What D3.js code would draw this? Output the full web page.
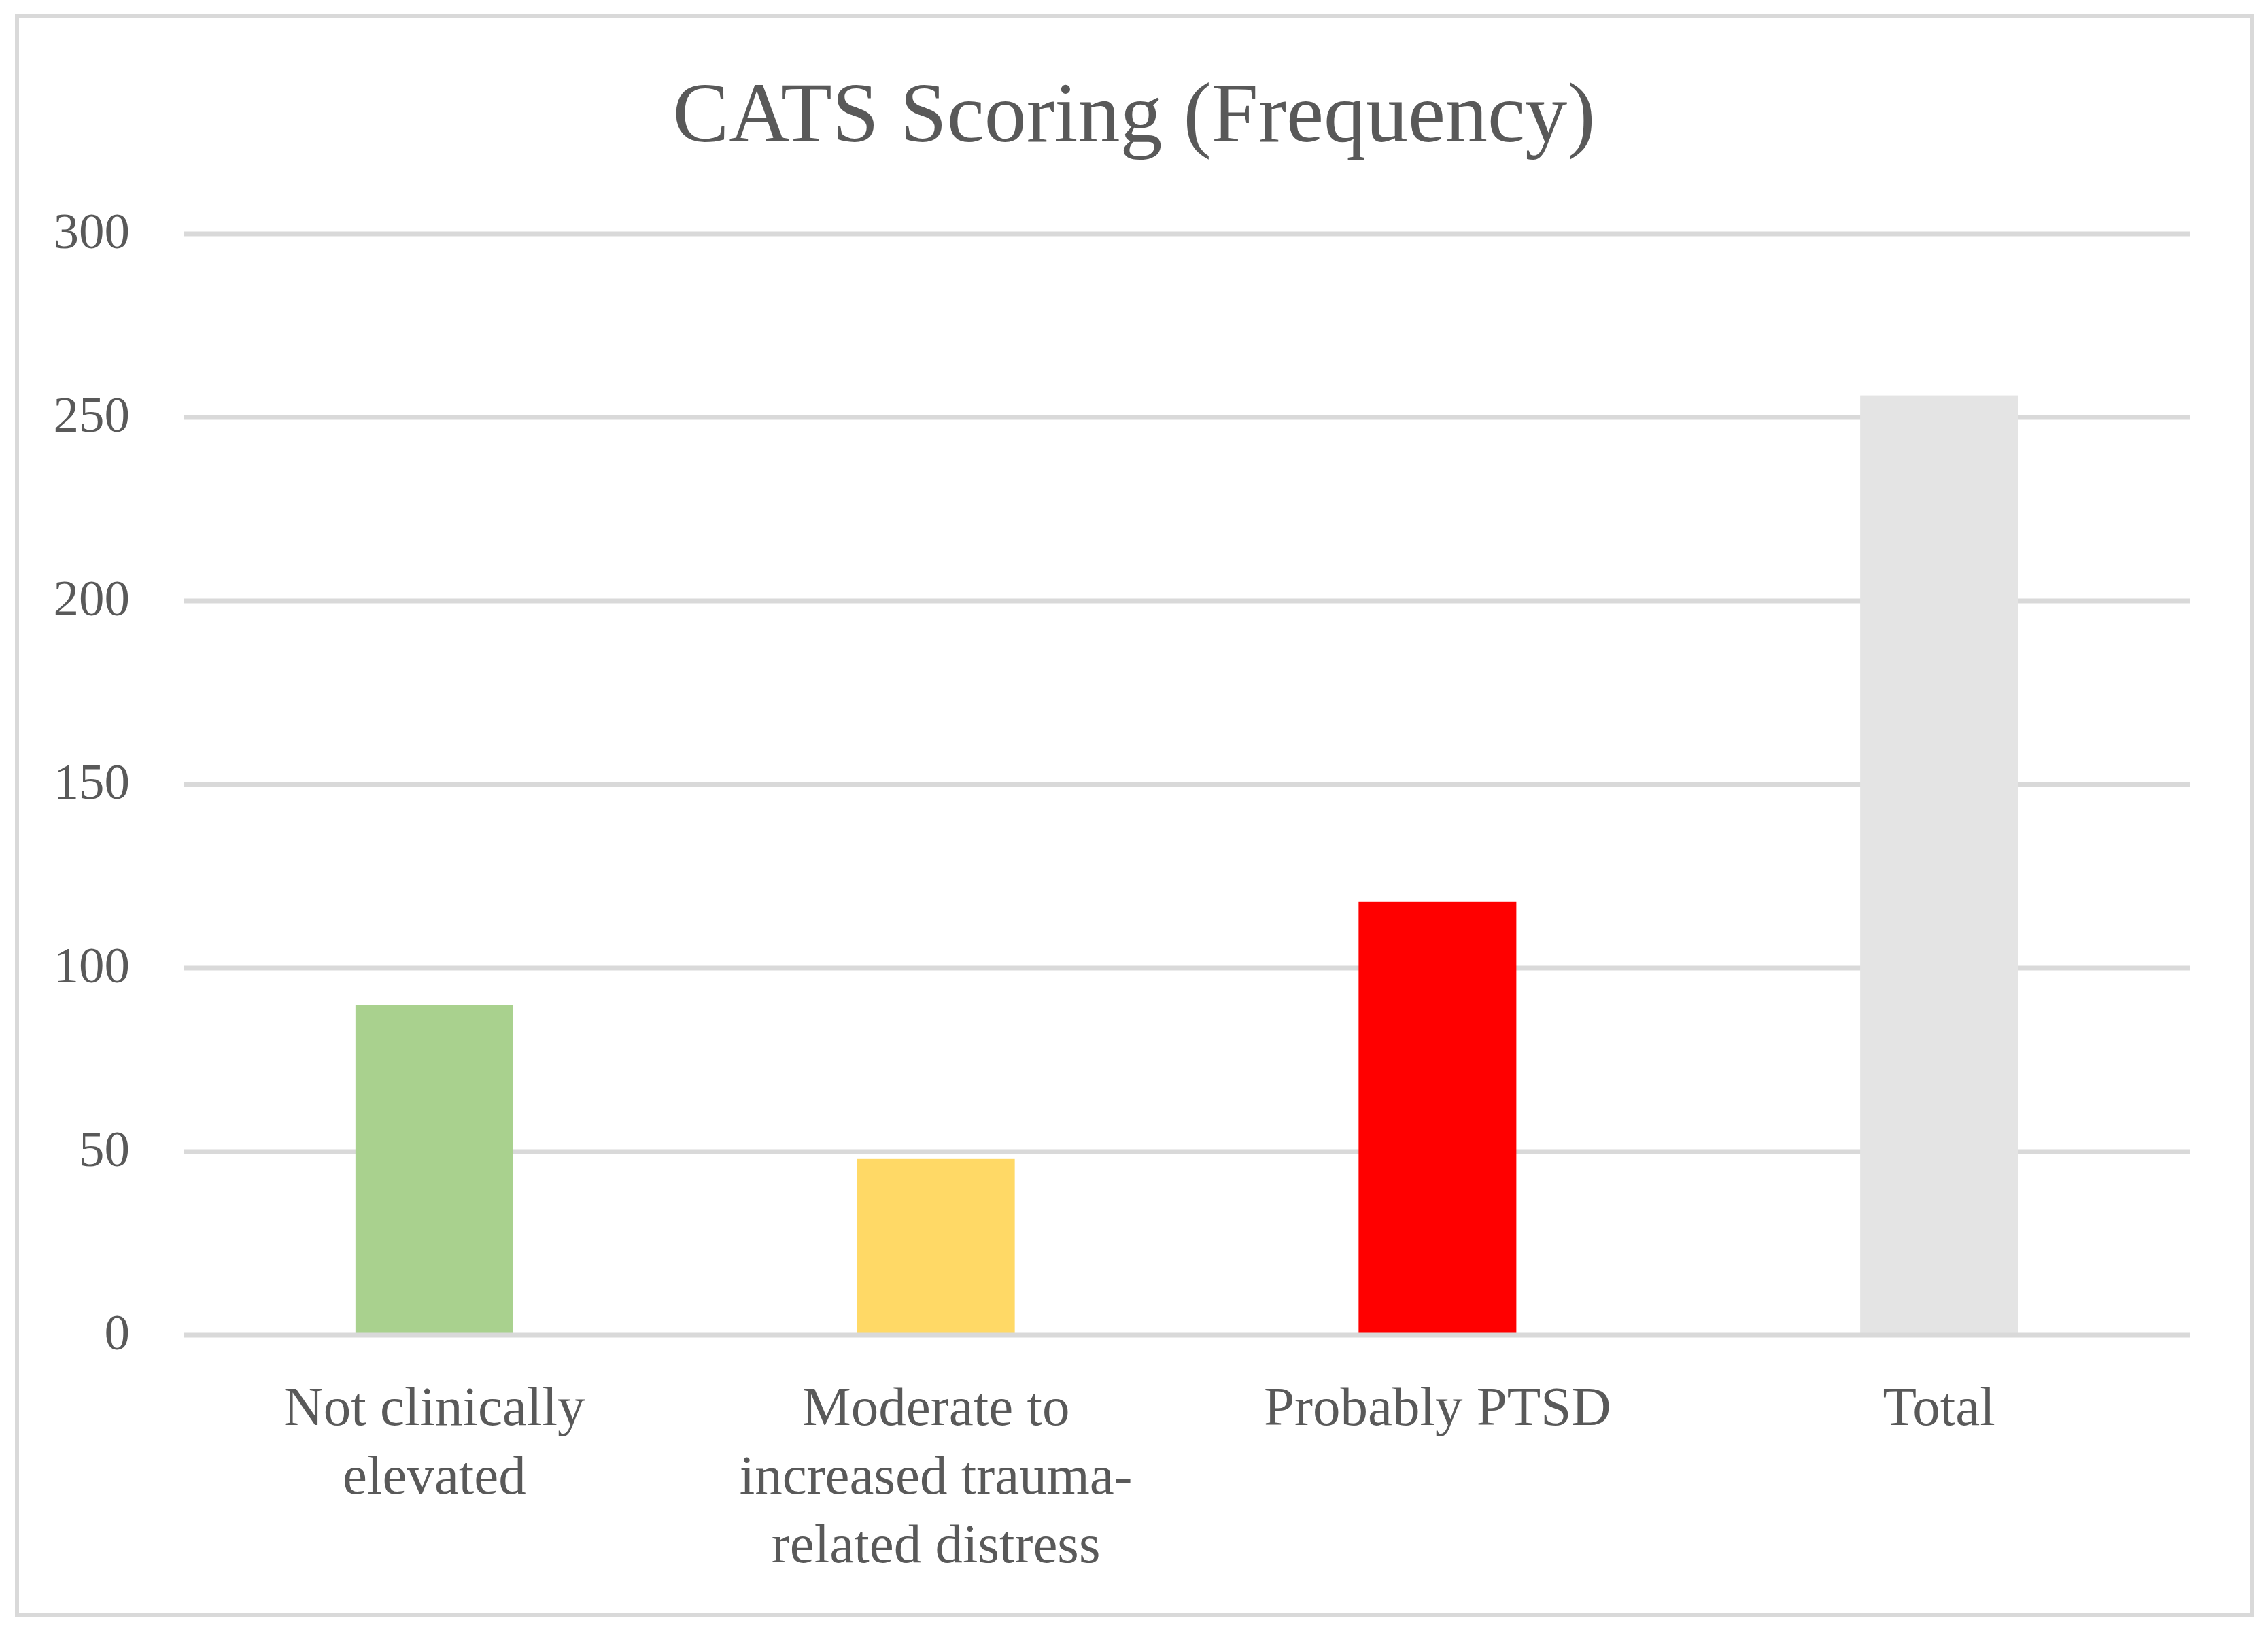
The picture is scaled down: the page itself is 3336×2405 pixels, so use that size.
<!DOCTYPE html>
<html>
<head>
<meta charset="utf-8">
<script src="https://cdn.jsdelivr.net/npm/d3@7/dist/d3.min.js"></script>
<style>
  html, body { margin: 0; padding: 0; background: #ffffff; }
  svg { display: block; }
  text { font-family: "Liberation Serif", "DejaVu Serif", serif; fill: #595959; }
</style>
</head>
<body>
<svg id="chart" width="3336" height="2405"></svg>
<script>
// ---- data ----
const categories = ["Not clinically elevated", "Moderate to increased trauma-related distress", "Probably PTSD", "Total"];
const categoryLines = [["Not clinically", "elevated"], ["Moderate to", "increased trauma-", "related distress"], ["Probably PTSD"], ["Total"]];
const values = [90, 48, 118, 256];
const barColors = ["#a9d18e", "#ffd966", "#ff0000", "#e4e4e4"];
const yTicks = [0, 50, 100, 150, 200, 250, 300];
const title = "CATS Scoring (Frequency)";

// ---- layout ----
const W = 3336, H = 2405;
const plot = { left: 270, right: 3221, top: 344, bottom: 1964 };
const svg = d3.select("#chart");

svg.append("rect").attr("x", 0).attr("y", 0).attr("width", W).attr("height", H).attr("fill", "#ffffff");
svg.append("rect")
  .attr("x", 25).attr("y", 24).attr("width", 3312 - 25).attr("height", 2376 - 24)
  .attr("fill", "#ffffff").attr("stroke", "#d9d9d9").attr("stroke-width", 6);

const x = d3.scaleBand().domain(categories).range([plot.left, plot.right]).paddingInner(0).paddingOuter(0);
const y = d3.scaleLinear().domain([0, 300]).range([plot.bottom, plot.top]);
const barW = x.bandwidth() * 0.3145;

// gridlines
const grid = svg.append("g");
grid.selectAll("line").data(yTicks.filter(d => d !== 0)).join("line")
  .attr("x1", plot.left).attr("x2", plot.right)
  .attr("y1", d => y(d)).attr("y2", d => y(d))
  .attr("stroke", "#d9d9d9").attr("stroke-width", 7);

// bars
svg.append("g").selectAll("rect").data(categories).join("rect")
  .attr("x", d => x(d) + x.bandwidth() / 2 - barW / 2)
  .attr("width", barW)
  .attr("y", (d, i) => y(values[i]))
  .attr("height", (d, i) => y(0) - y(values[i]))
  .attr("fill", (d, i) => barColors[i]);

// baseline
svg.append("line")
  .attr("x1", plot.left).attr("x2", plot.right)
  .attr("y1", y(0)).attr("y2", y(0))
  .attr("stroke", "#d9d9d9").attr("stroke-width", 7);

// y axis labels
const yAxis = d3.axisLeft(y).tickValues(yTicks).tickSize(0).tickPadding(0).tickFormat(d3.format("d"));
const gy = svg.append("g").attr("transform", "translate(191,-4)").call(yAxis);
gy.select(".domain").remove();
gy.selectAll("text")
  .attr("font-family", "Liberation Serif, DejaVu Serif, serif")
  .attr("font-size", 75).attr("fill", "#595959").attr("x", 0);

// x axis labels
const xAxis = d3.axisBottom(x).tickSize(0).tickPadding(0);
const gx = svg.append("g").attr("transform", `translate(0,${plot.bottom})`).call(xAxis);
gx.select(".domain").remove();
gx.selectAll("text").each(function(d, i) {
  const t = d3.select(this);
  t.text(null).attr("y", 0).attr("dy", null)
    .attr("font-family", "Liberation Serif, DejaVu Serif, serif")
    .attr("font-size", 81).attr("fill", "#595959").attr("text-anchor", "middle");
  categoryLines[i].forEach((line, k) => {
    t.append("tspan").attr("x", 0).attr("y", 132 + k * 101).text(line);
  });
});

// title
svg.append("text")
  .attr("x", 1668).attr("y", 208)
  .attr("text-anchor", "middle")
  .attr("font-size", 124)
  .attr("fill", "#595959")
  .text(title);
</script>
</body>
</html>
